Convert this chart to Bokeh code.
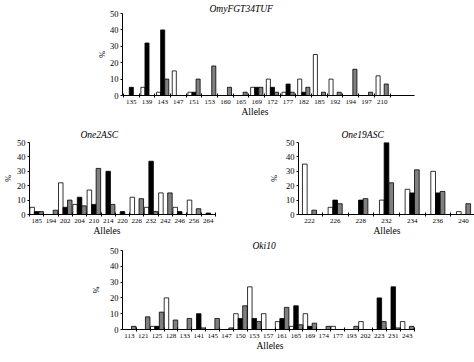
from bokeh.plotting import figure
from bokeh.layouts import column, row
from bokeh.models import Range1d, FixedTicker, Title, ColumnDataSource
from bokeh.transform import dodge
from bokeh.embed import file_html
from bokeh.resources import INLINE

# ---------------- data ----------------
omy_alleles = ["135", "139", "143", "147", "151", "153", "160", "165", "169",
               "172", "177", "182", "185", "192", "194", "197", "210"]
omy_white = [0, 5, 2, 15, 2, 0, 0, 0, 5, 10, 2, 10, 25, 10, 0, 0, 12]
omy_black = [5, 32, 40, 0, 2, 0, 0, 0, 5, 5, 7, 2, 0, 0, 0, 0, 0]
omy_gray = [0, 0, 10, 0, 10, 18, 5, 2, 5, 2, 2, 5, 2, 2, 16, 2, 7]

one2_alleles = ["185", "194", "202", "204", "210", "214", "220", "226",
                "232", "242", "246", "256", "264"]
one2_white = [5, 0, 22, 7, 17, 0, 0, 12, 5, 15, 5, 10, 0]
one2_black = [2, 0, 5, 12, 7, 30, 2, 0, 37, 0, 2, 0, 1]
one2_gray = [2, 3, 10, 6, 32, 7, 0, 11, 2, 15, 0, 4, 0]

one19_alleles = ["222", "226", "228", "232", "234", "236", "240"]
one19_white = [35, 5, 0, 10, 17.5, 30, 2]
one19_black = [0, 10, 10, 50, 15, 15, 0]
one19_gray = [3, 7.5, 11, 22, 31, 16, 7.5]

oki_alleles = ["113", "121", "125", "128", "133", "141", "145", "147", "150",
               "153", "157", "161", "165", "169", "174", "177", "193", "202",
               "223", "231", "243"]
oki_white = [0, 0, 2, 20, 0, 0, 0, 0, 10, 27, 10, 5, 2, 10, 0, 2, 0, 5, 0, 0, 5]
oki_black = [0, 0, 2, 0, 0, 10, 0, 0, 7, 7, 0, 7, 15, 2, 0, 0, 0, 0, 20, 27, 0]
oki_gray = [2, 8, 11, 6, 7, 1, 7, 1, 15, 5, 0, 14, 3, 4, 2, 0, 2, 0, 5, 1, 2]

y_ticks = [0, 10, 20, 30, 40, 50]

FONT = "Liberation Serif"
GRAY = "#808080"


def make_panel(alleles, white, black, gray, title, g):
    p = figure(width=g["W"], height=g["H"], output_backend="svg",
               toolbar_location=None,
               x_range=Range1d(g["xs"], g["xe"]), y_range=Range1d(0, 50),
               min_border_left=g["bl"], min_border_top=g["bt"],
               min_border_right=g["br"], min_border_bottom=g["bb"])
    p.outline_line_color = None
    p.xgrid.visible = False
    p.ygrid.visible = False
    p.background_fill_color = "white"
    p.border_fill_color = "white"

    bw = g["bw"]
    n = len(alleles)
    src = ColumnDataSource(dict(idx=list(range(n)), white=white,
                                black=black, gray=gray))
    p.vbar(x=dodge("idx", -bw, range=p.x_range), top="white", width=bw,
           source=src, fill_color="white", line_color="black", line_width=0.8)
    p.vbar(x=dodge("idx", 0, range=p.x_range), top="black", width=bw,
           source=src, fill_color="black", line_color="black", line_width=0.8)
    p.vbar(x=dodge("idx", bw, range=p.x_range), top="gray", width=bw,
           source=src, fill_color=GRAY, line_color="black", line_width=0.8)

    xa = p.xaxis[0]
    xa.ticker = FixedTicker(ticks=list(range(n)),
                            minor_ticks=[i - 0.5 for i in range(n + 1)])
    xa.major_label_overrides = {i: a for i, a in enumerate(alleles)}
    xa.major_tick_in = 0
    xa.major_tick_out = 0
    xa.minor_tick_in = 2
    xa.minor_tick_out = 2
    xa.major_label_standoff = 2
    xa.major_label_text_font = FONT
    xa.major_label_text_font_size = "7px"
    xa.major_label_text_color = "black"
    xa.axis_line_color = "black"

    ya = p.yaxis[0]
    ya.ticker = FixedTicker(ticks=y_ticks)
    ya.major_tick_in = 0
    ya.major_tick_out = 2
    ya.minor_tick_in = 0
    ya.minor_tick_out = 0
    ya.major_label_standoff = 2
    ya.major_label_text_font = FONT
    ya.major_label_text_font_size = "8.5px"
    ya.major_label_text_color = "black"
    ya.axis_line_color = "black"
    ya.axis_label = "%"
    ya.axis_label_text_font = FONT
    ya.axis_label_text_font_style = "normal"
    ya.axis_label_text_font_size = "8px"
    ya.axis_label_standoff = g["pct_standoff"]
    ya.axis_label_text_color = "black"

    p.title.text = title
    p.title.align = "left"
    p.title.offset = g["title_off"]
    p.title.standoff = g["title_standoff"]
    p.title.vertical_align = "bottom"
    p.title.text_font = FONT
    p.title.text_font_style = "italic"
    p.title.text_font_size = "9.5px"
    p.title.text_color = "black"

    p.add_layout(Title(text="Alleles", align="left", offset=g["alleles_off"],
                       standoff=0, vertical_align="top", text_font=FONT,
                       text_font_style="normal", text_font_size="9.5px",
                       text_color="black"), "below")
    return p


# geometry: canvas sizes in px, borders, index ranges, text offsets
g1 = dict(W=474, H=121, bl=122, bt=13, br=54, bb=26,
          xs=(122 - 131) / 16, xe=(420 - 131) / 16, bw=0.26,
          title_off=87, title_standoff=0, alleles_off=119, pct_standoff=0)
g2 = dict(W=260, H=117, bl=25, bt=21, br=45, bb=24,
          xs=-0.5, xe=12.5, bw=0.315,
          title_off=51, title_standoff=6, alleles_off=64, pct_standoff=1)
g3 = dict(W=214, H=117, bl=38, bt=21, br=0, bb=24,
          xs=(298 - 309) / 25.67, xe=(474 - 309) / 25.67, bw=0.183,
          title_off=43, title_standoff=6, alleles_off=75, pct_standoff=4)
g4 = dict(W=474, H=124, bl=104, bt=11, br=60, bb=33,
          xs=(104 - 111.2) / 14.75, xe=(414 - 111.2) / 14.75, bw=0.325,
          title_off=130, title_standoff=0, alleles_off=134, pct_standoff=6)

p1 = make_panel(omy_alleles, omy_white, omy_black, omy_gray, "OmyFGT34TUF", g1)
p2 = make_panel(one2_alleles, one2_white, one2_black, one2_gray, "One2ASC", g2)
p3 = make_panel(one19_alleles, one19_white, one19_black, one19_gray, "One19ASC", g3)
p4 = make_panel(oki_alleles, oki_white, oki_black, oki_gray, "Oki10", g4)

layout = column(p1, row(p2, p3), p4)
open("out.html", "w").write(file_html(layout, INLINE))
